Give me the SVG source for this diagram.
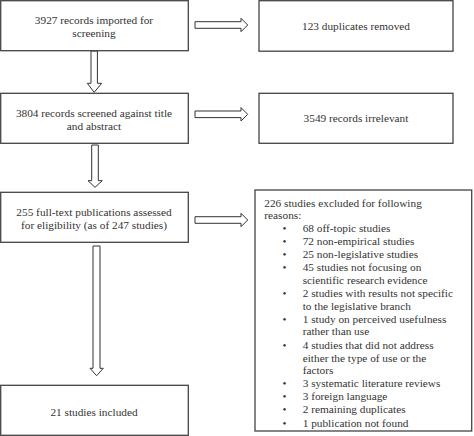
<svg xmlns="http://www.w3.org/2000/svg" width="474" height="436" viewBox="0 0 474 436">
<style>
.box{fill:#fff;stroke:#444;stroke-width:1.3}
.arr{fill:#fff;stroke:#333;stroke-width:1}
text{font-family:"Liberation Serif","Times New Roman",serif;font-size:11.3px;fill:#333}
.c{text-anchor:middle}
</style>
<rect width="474" height="436" fill="#fff"/>
<g id="connectors">
<polygon class="arr" points="195,21.7 241,21.7 241,18.3 247.7,25 241,31.7 241,28.3 195,28.3"/>
<polygon class="arr" points="195,111 241,111 241,107.6 247.7,114.3 241,121 241,117.6 195,117.6"/>
<polygon class="arr" points="195,216.7 241,216.7 241,213.3 247.7,220 241,226.7 241,223.3 195,223.3"/>
<polygon class="arr" points="91,51 97.4,51 97.4,83.3 101.7,83.3 94.2,92.3 87.3,83.3 91,83.3"/>
<polygon class="arr" points="91.7,145 98.3,145 98.3,180.7 102.3,180.7 95,187.3 88,180.7 91.7,180.7"/>
<polygon class="arr" points="93,246 100,246 100,368.3 103.3,368.3 96.6,375.7 90,368.3 93,368.3"/>
</g>
<g id="n1">
<rect class="box" x="0.7" y="0.7" width="187.6" height="50"/>
<text class="c" x="94" y="23.5">3927 records imported for</text>
<text class="c" x="94" y="37">screening</text>
</g>
<g id="n2">
<rect class="box" x="259" y="0.7" width="194" height="50.5"/>
<text class="c" x="356" y="30">123 duplicates removed</text>
</g>
<g id="n3">
<rect class="box" x="0.7" y="93.3" width="187.6" height="50"/>
<text class="c" x="94" y="116.5">3804 records screened against title</text>
<text class="c" x="94" y="130">and abstract</text>
</g>
<g id="n4">
<rect class="box" x="259" y="93.3" width="194" height="50"/>
<text class="c" x="356" y="121.5">3549 records irrelevant</text>
</g>
<g id="n5">
<rect class="box" x="0.7" y="192.3" width="187.6" height="50"/>
<text class="c" x="94" y="216">255 full-text publications assessed</text>
<text class="c" x="94" y="229">for eligibility (as of 247 studies)</text>
</g>
<g id="n6">
<rect class="box" x="0.7" y="385.3" width="187.6" height="50"/>
<text class="c" x="94" y="416">21 studies included</text>
</g>
<g id="n7">
<rect class="box" x="255" y="190" width="216.7" height="241"/>
<text x="264.3" y="206.5">226 studies excluded for following</text>
<text x="264.3" y="219">reasons:</text>
<g>
<text x="282.5" y="231.8">•</text><text x="302.7" y="231.8">68 off-topic studies</text>
<text x="282.5" y="244.8">•</text><text x="302.7" y="244.8">72 non-empirical studies</text>
<text x="282.5" y="257.8">•</text><text x="302.7" y="257.8">25 non-legislative studies</text>
<text x="282.5" y="270.8">•</text><text x="302.7" y="270.8">45 studies not focusing on</text>
<text x="302.7" y="283.6">scientific research evidence</text>
<text x="282.5" y="297">•</text><text x="302.7" y="297">2 studies with results not specific</text>
<text x="302.7" y="310">to the legislative branch</text>
<text x="282.5" y="322.8">•</text><text x="302.7" y="322.8">1 study on perceived usefulness</text>
<text x="302.7" y="335.2">rather than use</text>
<text x="282.5" y="348.5">•</text><text x="302.7" y="348.5">4 studies that did not address</text>
<text x="302.7" y="361.6">either the type of use or the</text>
<text x="302.7" y="373.5">factors</text>
<text x="282.5" y="386.8">•</text><text x="302.7" y="386.8">3 systematic literature reviews</text>
<text x="282.5" y="400">•</text><text x="302.7" y="400">3 foreign language</text>
<text x="282.5" y="413.4">•</text><text x="302.7" y="413.4">2 remaining duplicates</text>
<text x="282.5" y="426.7">•</text><text x="302.7" y="426.7">1 publication not found</text>
</g>
</g>
</svg>
